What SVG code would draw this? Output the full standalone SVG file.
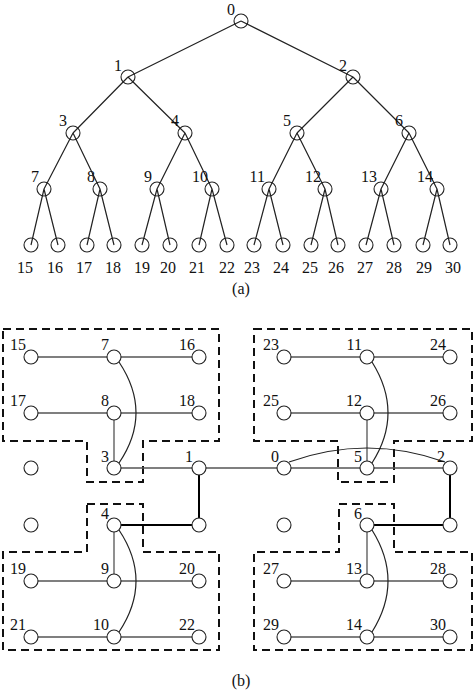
<svg xmlns="http://www.w3.org/2000/svg" width="474" height="692" viewBox="0 0 474 692">
<style>
text{font-family:"Liberation Serif","Times New Roman",serif;font-size:16px;fill:#111}
.lb{text-anchor:end}
.lf{text-anchor:middle}
.t{stroke:#222;stroke-width:1.2;fill:none}
.n{fill:none;stroke:#222;stroke-width:1.1}
.nb{fill:#fff;stroke:#222;stroke-width:1.1}
.g{stroke:#555;stroke-width:1.3;fill:none}
.k{stroke:#000;stroke-width:2;fill:none}
.a{stroke:#222;stroke-width:1.2;fill:none}
.d{fill:none;stroke:#111;stroke-width:2;stroke-dasharray:8,5}
</style>
<rect width="474" height="692" fill="#fff"/>
<g id="tree-edges">
<path class="t" d="M241,21L128,77M241,21L353,77M128,77L73,133M128,77L185,133M353,77L297,133M353,77L409,133M73,133L44,189M73,133L100,189M185,133L157,189M185,133L212,189M297,133L269,189M297,133L325,189M409,133L381,189M409,133L437,189M44,189L31,245M44,189L58,245M100,189L87,245M100,189L114,245M157,189L142,245M157,189L170,245M212,189L199,245M212,189L227,245M269,189L254,245M269,189L283,245M325,189L311,245M325,189L338,245M381,189L366,245M381,189L394,245M437,189L423,245M437,189L450,245"/>
</g>
<g id="a-n0"><circle class="n" cx="241" cy="21" r="7"/><text class="lb" x="235" y="15">0</text></g>
<g id="a-n1"><circle class="n" cx="128" cy="77" r="7"/><text class="lb" x="122" y="71">1</text></g>
<g id="a-n2"><circle class="n" cx="353" cy="77" r="7"/><text class="lb" x="347" y="71">2</text></g>
<g id="a-n3"><circle class="n" cx="73" cy="133" r="7"/><text class="lb" x="67" y="126">3</text></g>
<g id="a-n4"><circle class="n" cx="185" cy="133" r="7"/><text class="lb" x="179" y="126">4</text></g>
<g id="a-n5"><circle class="n" cx="297" cy="133" r="7"/><text class="lb" x="291" y="126">5</text></g>
<g id="a-n6"><circle class="n" cx="409" cy="133" r="7"/><text class="lb" x="403" y="126">6</text></g>
<g id="a-n7"><circle class="n" cx="44" cy="189" r="7"/><text class="lb" x="39" y="182">7</text></g>
<g id="a-n8"><circle class="n" cx="100" cy="189" r="7"/><text class="lb" x="95" y="182">8</text></g>
<g id="a-n9"><circle class="n" cx="157" cy="189" r="7"/><text class="lb" x="152" y="182">9</text></g>
<g id="a-n10"><circle class="n" cx="212" cy="189" r="7"/><text class="lb" x="208" y="182">10</text></g>
<g id="a-n11"><circle class="n" cx="269" cy="189" r="7"/><text class="lb" x="265" y="182">11</text></g>
<g id="a-n12"><circle class="n" cx="325" cy="189" r="7"/><text class="lb" x="321" y="182">12</text></g>
<g id="a-n13"><circle class="n" cx="381" cy="189" r="7"/><text class="lb" x="377" y="182">13</text></g>
<g id="a-n14"><circle class="n" cx="437" cy="189" r="7"/><text class="lb" x="433" y="182">14</text></g>
<g id="a-n15"><circle class="n" cx="31" cy="245" r="7"/><text class="lf" x="25" y="273">15</text></g>
<g id="a-n16"><circle class="n" cx="58" cy="245" r="7"/><text class="lf" x="55" y="273">16</text></g>
<g id="a-n17"><circle class="n" cx="87" cy="245" r="7"/><text class="lf" x="84" y="273">17</text></g>
<g id="a-n18"><circle class="n" cx="114" cy="245" r="7"/><text class="lf" x="113" y="273">18</text></g>
<g id="a-n19"><circle class="n" cx="142" cy="245" r="7"/><text class="lf" x="142" y="273">19</text></g>
<g id="a-n20"><circle class="n" cx="170" cy="245" r="7"/><text class="lf" x="168" y="273">20</text></g>
<g id="a-n21"><circle class="n" cx="199" cy="245" r="7"/><text class="lf" x="197" y="273">21</text></g>
<g id="a-n22"><circle class="n" cx="227" cy="245" r="7"/><text class="lf" x="227" y="273">22</text></g>
<g id="a-n23"><circle class="n" cx="254" cy="245" r="7"/><text class="lf" x="252" y="273">23</text></g>
<g id="a-n24"><circle class="n" cx="283" cy="245" r="7"/><text class="lf" x="281" y="273">24</text></g>
<g id="a-n25"><circle class="n" cx="311" cy="245" r="7"/><text class="lf" x="310" y="273">25</text></g>
<g id="a-n26"><circle class="n" cx="338" cy="245" r="7"/><text class="lf" x="336" y="273">26</text></g>
<g id="a-n27"><circle class="n" cx="366" cy="245" r="7"/><text class="lf" x="365" y="273">27</text></g>
<g id="a-n28"><circle class="n" cx="394" cy="245" r="7"/><text class="lf" x="394" y="273">28</text></g>
<g id="a-n29"><circle class="n" cx="423" cy="245" r="7"/><text class="lf" x="424" y="273">29</text></g>
<g id="a-n30"><circle class="n" cx="450" cy="245" r="7"/><text class="lf" x="453" y="273">30</text></g>
<text class="lf" x="241" y="294">(a)</text>

<g id="regions">
<path class="d" d="M3,329H219V441H143V482H87V441H3Z"/>
<path class="d" d="M254,329H472V441H394V482H338V441H254Z"/>
<path class="d" d="M87,504H143V552H219V650H3V552H87Z"/>
<path class="d" d="M339,504H394V552H472V650H254V552H339Z"/>
</g>
<g id="b-edges">
<path class="g" d="M31,357H199M31,413H199M31,581H199M31,637H199M284,357H450M284,413H450M284,581H450M284,637H450M114,413V468M367,413V468M114,525V581M367,525V581M114,468H450"/>
<path class="k" d="M199,468V525M450,468V525M114,525H199M367,525H450"/>
<path class="a" d="M119,362Q153,413 119,463M372,362Q404,413 372,463M119,530Q153,581 119,632M372,530Q404,581 372,632M289,462Q367,434 445,462"/>
</g>
<g id="b-n15"><circle class="nb" cx="31" cy="357" r="7"/><text class="lb" x="26" y="350">15</text></g>
<g id="b-n7"><circle class="nb" cx="114" cy="357" r="7"/><text class="lb" x="109" y="350">7</text></g>
<g id="b-n16"><circle class="nb" cx="199" cy="357" r="7"/><text class="lb" x="195" y="350">16</text></g>
<g id="b-n17"><circle class="nb" cx="31" cy="413" r="7"/><text class="lb" x="26" y="406">17</text></g>
<g id="b-n8"><circle class="nb" cx="114" cy="413" r="7"/><text class="lb" x="109" y="406">8</text></g>
<g id="b-n18"><circle class="nb" cx="199" cy="413" r="7"/><text class="lb" x="195" y="406">18</text></g>
<g id="b-e1"><circle class="nb" cx="31" cy="468" r="7"/></g>
<g id="b-n3"><circle class="nb" cx="114" cy="468" r="7"/><text class="lb" x="109" y="462">3</text></g>
<g id="b-n1"><circle class="nb" cx="199" cy="468" r="7"/><text class="lb" x="193" y="462">1</text></g>
<g id="b-n23"><circle class="nb" cx="284" cy="357" r="7"/><text class="lb" x="279" y="350">23</text></g>
<g id="b-n11"><circle class="nb" cx="367" cy="357" r="7"/><text class="lb" x="362" y="350">11</text></g>
<g id="b-n24"><circle class="nb" cx="450" cy="357" r="7"/><text class="lb" x="446" y="350">24</text></g>
<g id="b-n25"><circle class="nb" cx="284" cy="413" r="7"/><text class="lb" x="279" y="406">25</text></g>
<g id="b-n12"><circle class="nb" cx="367" cy="413" r="7"/><text class="lb" x="362" y="406">12</text></g>
<g id="b-n26"><circle class="nb" cx="450" cy="413" r="7"/><text class="lb" x="446" y="406">26</text></g>
<g id="b-n0"><circle class="nb" cx="284" cy="468" r="7"/><text class="lb" x="279" y="462">0</text></g>
<g id="b-n5"><circle class="nb" cx="367" cy="468" r="7"/><text class="lb" x="362" y="462">5</text></g>
<g id="b-n2"><circle class="nb" cx="450" cy="468" r="7"/><text class="lb" x="445" y="462">2</text></g>
<g id="b-e2"><circle class="nb" cx="31" cy="525" r="7"/></g>
<g id="b-n4"><circle class="nb" cx="114" cy="525" r="7"/><text class="lb" x="109" y="519">4</text></g>
<g id="b-e3"><circle class="nb" cx="199" cy="525" r="7"/></g>
<g id="b-e4"><circle class="nb" cx="284" cy="525" r="7"/></g>
<g id="b-n6"><circle class="nb" cx="367" cy="525" r="7"/><text class="lb" x="362" y="519">6</text></g>
<g id="b-e5"><circle class="nb" cx="450" cy="525" r="7"/></g>
<g id="b-n19"><circle class="nb" cx="31" cy="581" r="7"/><text class="lb" x="26" y="574">19</text></g>
<g id="b-n9"><circle class="nb" cx="114" cy="581" r="7"/><text class="lb" x="109" y="574">9</text></g>
<g id="b-n20"><circle class="nb" cx="199" cy="581" r="7"/><text class="lb" x="195" y="574">20</text></g>
<g id="b-n21"><circle class="nb" cx="31" cy="637" r="7"/><text class="lb" x="26" y="630">21</text></g>
<g id="b-n10"><circle class="nb" cx="114" cy="637" r="7"/><text class="lb" x="109" y="630">10</text></g>
<g id="b-n22"><circle class="nb" cx="199" cy="637" r="7"/><text class="lb" x="195" y="630">22</text></g>
<g id="b-n27"><circle class="nb" cx="284" cy="581" r="7"/><text class="lb" x="279" y="574">27</text></g>
<g id="b-n13"><circle class="nb" cx="367" cy="581" r="7"/><text class="lb" x="362" y="574">13</text></g>
<g id="b-n28"><circle class="nb" cx="450" cy="581" r="7"/><text class="lb" x="446" y="574">28</text></g>
<g id="b-n29"><circle class="nb" cx="284" cy="637" r="7"/><text class="lb" x="279" y="630">29</text></g>
<g id="b-n14"><circle class="nb" cx="367" cy="637" r="7"/><text class="lb" x="362" y="630">14</text></g>
<g id="b-n30"><circle class="nb" cx="450" cy="637" r="7"/><text class="lb" x="446" y="630">30</text></g>
<text class="lf" x="241" y="686">(b)</text>
</svg>
